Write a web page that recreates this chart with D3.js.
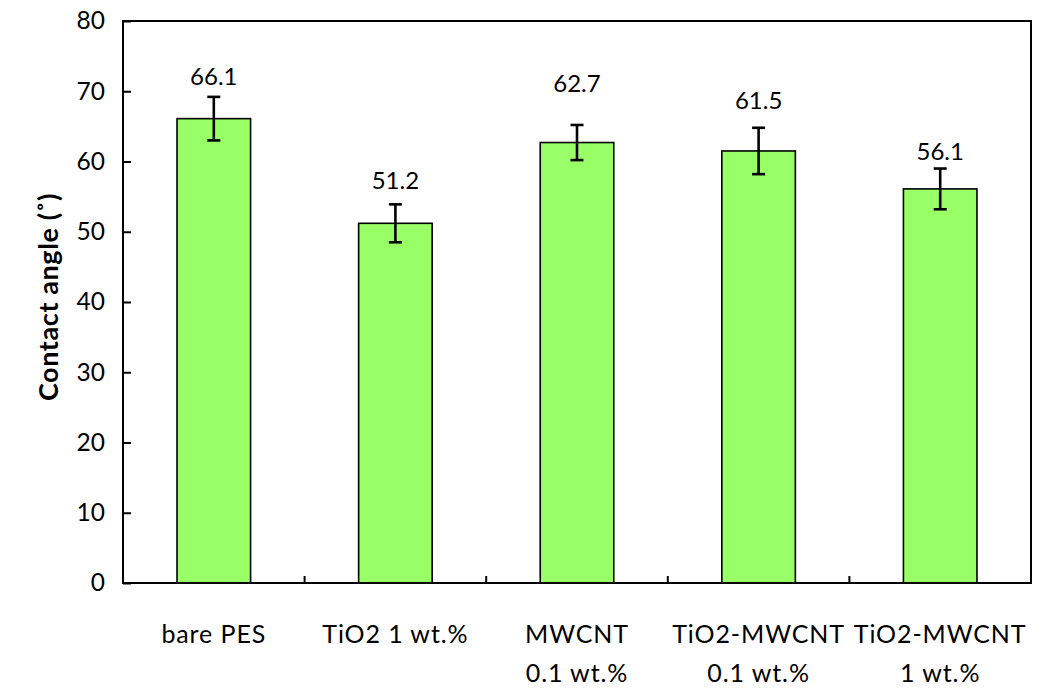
<!DOCTYPE html>
<html>
<head>
<meta charset="utf-8">
<script src="https://cdn.jsdelivr.net/npm/d3@7"></script>
<style>
  body { margin: 0; background: #fff; }
  svg text { font-family: Lato, "Open Sans", sans-serif; fill: #000; }
</style>
</head>
<body>
<svg id="chart"></svg>
<script>
// Data
var categories = [["bare PES"], ["TiO2 1 wt.%"], ["MWCNT", "0.1 wt.%"], ["TiO2-MWCNT", "0.1 wt.%"], ["TiO2-MWCNT", "1 wt.%"]];
var values = [66.1, 51.2, 62.7, 61.5, 56.1];
var errors = [3.1, 2.7, 2.5, 3.3, 2.9];
var yTicks = [0, 10, 20, 30, 40, 50, 60, 70, 80];

// Margins of the chart
var margin = { top: 21, right: 19, bottom: 111, left: 123 };
const width = 1050 - margin.left - margin.right;
const height = 694 - margin.top - margin.bottom;

var svg = d3.select("#chart")
    .attr("width", 1050)
    .attr("height", 694);

var g = svg.append("g")
    .attr("transform", "translate(" + margin.left + "," + margin.top + ")");

var xScale = d3.scaleBand().domain(d3.range(categories.length)).range([0, width]).padding(0);
var yScale = d3.scaleLinear().domain([0, 80]).range([height, 0]);
var barW = xScale.bandwidth() * 0.405;

// bars
g.selectAll(".bar")
    .data(values)
    .enter()
    .append("rect")
    .attr("class", "bar")
    .attr("x", function(d, i) { return xScale(i) + xScale.bandwidth() / 2 - barW / 2; })
    .attr("y", function(d) { return yScale(d); })
    .attr("width", barW)
    .attr("height", function(d) { return yScale(0) - yScale(d); })
    .style("fill", "#99ff66")
    .style("stroke", "#000")
    .style("stroke-width", 1.6);

// error bars
var capW = 13;
values.forEach(function(v, i) {
    var cx = xScale(i) + xScale.bandwidth() / 2;
    var eg = g.append("g").style("stroke", "#000").style("stroke-width", 2.6);
    eg.append("line").attr("x1", cx).attr("x2", cx)
        .attr("y1", yScale(v + errors[i])).attr("y2", yScale(v - errors[i]));
    eg.append("line").attr("x1", cx - capW / 2).attr("x2", cx + capW / 2)
        .attr("y1", yScale(v + errors[i])).attr("y2", yScale(v + errors[i]));
    eg.append("line").attr("x1", cx - capW / 2).attr("x2", cx + capW / 2)
        .attr("y1", yScale(v - errors[i])).attr("y2", yScale(v - errors[i]));
});

// value labels (placed by hand in the original, so lift differs per bar)
var labelLift = [21, 25, 42, 28, 18];
values.forEach(function(v, i) {
    g.append("text")
        .attr("x", xScale(i) + xScale.bandwidth() / 2)
        .attr("y", yScale(v + errors[i]) - labelLift[i])
        .attr("text-anchor", "middle")
        .attr("dominant-baseline", "central")
        .style("font-size", "24px")
        .text(v.toFixed(1));
});

// frame
g.append("rect")
    .attr("width", width).attr("height", height)
    .style("fill", "none").style("stroke", "#000").style("stroke-width", 2);

// y axis, ticks inside
var yAxis = d3.axisLeft(yScale).tickValues(yTicks).tickSizeInner(-8).tickSizeOuter(0).tickPadding(18);
var ya = g.append("g").attr("class", "y-axis").call(yAxis);
ya.select(".domain").remove();
ya.selectAll("line").style("stroke", "#000").style("stroke-width", 2);
ya.selectAll("text").style("font-size", "24.5px").style("font-family", "Lato, sans-serif");

// category ticks between bars
g.selectAll(".ctick")
    .data(d3.range(1, categories.length))
    .enter()
    .append("line")
    .attr("x1", function(d) { return xScale(d); })
    .attr("x2", function(d) { return xScale(d); })
    .attr("y1", height).attr("y2", height - 7)
    .style("stroke", "#000").style("stroke-width", 2);

// category labels
categories.forEach(function(lines, i) {
    var t = g.append("text")
        .attr("text-anchor", "middle")
        .attr("dominant-baseline", "central")
        .style("font-size", "25px")
        .style("letter-spacing", "0.9px");
    lines.forEach(function(s, k) {
        t.append("tspan")
            .attr("x", xScale(i) + xScale.bandwidth() / 2)
            .attr("y", height + 50 + k * 39)
            .text(s);
    });
});

// y axis label
g.append("text")
    .attr("transform", "rotate(-90)")
    .attr("x", -height / 2 + 5)
    .attr("y", -76)
    .attr("text-anchor", "middle")
    .attr("dominant-baseline", "central")
    .style("font-size", "27px")
    .style("font-weight", "bold")
    .style("letter-spacing", "0.6px")
    .text("Contact angle (˚)");
</script>
</body>
</html>
